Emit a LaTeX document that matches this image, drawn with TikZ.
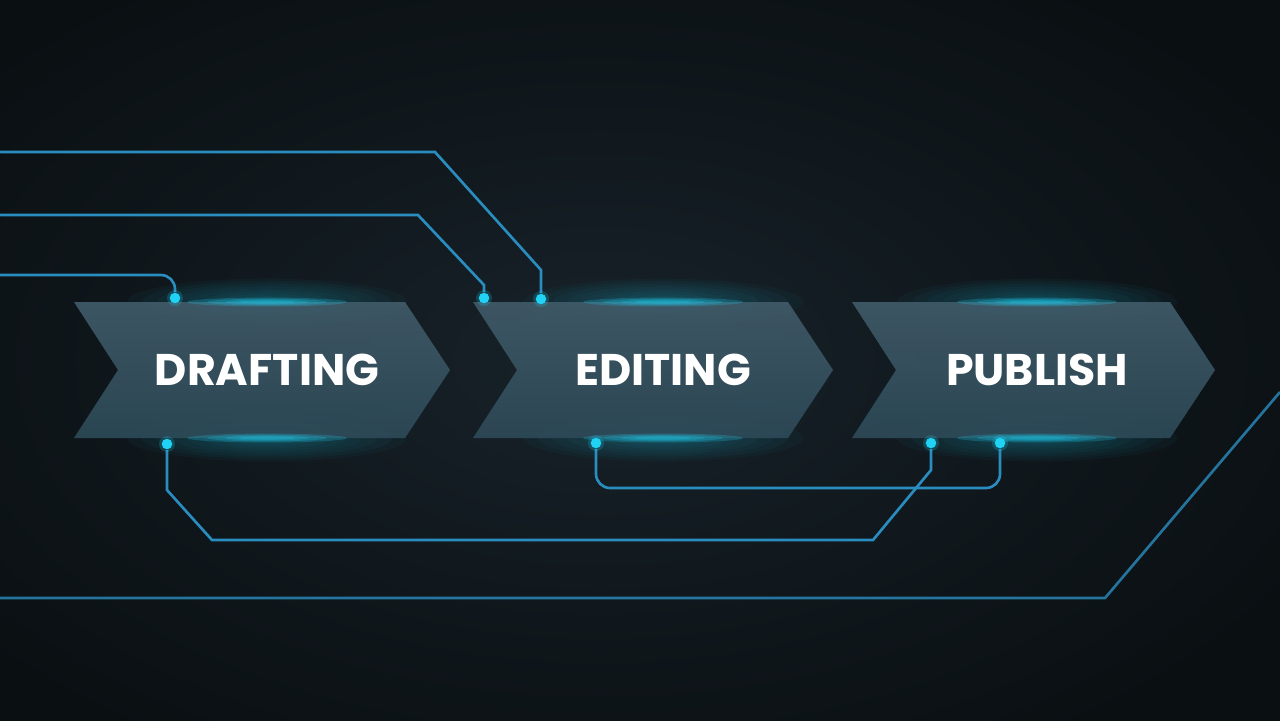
\documentclass[tikz,border=0pt]{standalone}
\usepackage{fontspec}
\newfontfamily\stagefont{Poppins}
\usetikzlibrary{positioning}
\definecolor{bgdark}{HTML}{0A0F12}
\definecolor{bgmid}{HTML}{172229}
\definecolor{wire}{HTML}{2A8DC0}
\definecolor{spark}{HTML}{20D2F4}
\definecolor{chevtop}{HTML}{405A68}
\definecolor{chevbot}{HTML}{2D4957}
\tikzset{
  wire/.style={draw=wire, line width=0.75pt},
  dot/.style={circle, fill=spark, inner sep=0pt, minimum size=3pt},
  stagetext/.style={font=\stagefont\bfseries\fontsize{12.6}{13}\selectfont, text=white},
}

\begin{document}
\begin{tikzpicture}[x=0.01cm, y=-0.01cm]
        \useasboundingbox (0,0) rectangle (1280,720);
        \shade[inner color=bgmid, outer color=bgdark] (-200,-100) rectangle (1400,820);

        % chevrons with glow on top and bottom edge
        \foreach \x/\e/\c/\n/\t in {74/405/267/draft/DRAFTING, 473/788/663/edit/EDITING, 852/1170/1037/pub/PUBLISH} {
            \foreach \r in {140,125,...,30} {
                \fill[spark, opacity=.035] (\c,302) ellipse [x radius=\r, y radius=\r/6];
                \fill[spark, opacity=.035] (\c,438) ellipse [x radius=\r, y radius=\r/6];
            }
            \shade[top color=chevtop, bottom color=chevbot, opacity=.93]
                (\x,302) -- (\e,302) -- (\e+45,370) -- (\e,438) -- (\x,438) -- (\x+44,370) -- cycle;
            \foreach \r in {80,60,42,28} {
                \fill[spark, opacity=.22] (\c,302) ellipse [x radius=\r, y radius=\r/18];
                \fill[spark, opacity=.22] (\c,438) ellipse [x radius=\r, y radius=\r/18];
            }
            \node[stagetext] (\n) at (\c,370) {\t};
        }

        % top wires
        \coordinate (w1) at (0,152);
        \coordinate (w2) at (0,215);
        \coordinate (w3) at (0,275);
        \node[dot] (t1) at (541,299) {};
        \node[dot] (t2) at (484,298) {};
        \node[dot] (t3) at (175,298) {};
        \draw[wire] (w1) -- (435,152) -- (541,270) -- (t1);
        \draw[wire] (w2) -- (418,215) -- (484,285) -- (t2);
        \draw[wire, rounded corners=4pt] (w3) -- (175,275) -- (t3);

        % bottom wires
        \node[dot] (b1) at (167,444) {};
        \node[dot] (b2) at (596,443) {};
        \node[dot] (b3) at (1000,443) {};
        \node[dot] (b4) at (931,443) {};
        \draw[wire] (b1) -- (167,490) -- (212,540) -- (873,540) -- (931,470) -- (b4);
        \draw[wire, rounded corners=4pt] (b2) -- (596,488) -- (1000,488) -- (b3);

        % long wire
        \coordinate (w4) at (0,598);
        \coordinate (w5) at (1280,392);
        \draw[wire, opacity=.8] (w4) -- (1105,598) -- (w5);

        % dot halos
        \foreach \d in {t1,t2,t3,b1,b2,b3,b4}
            \fill[spark, opacity=.2] (\d) circle (8);
    \end{tikzpicture}
\end{document}
